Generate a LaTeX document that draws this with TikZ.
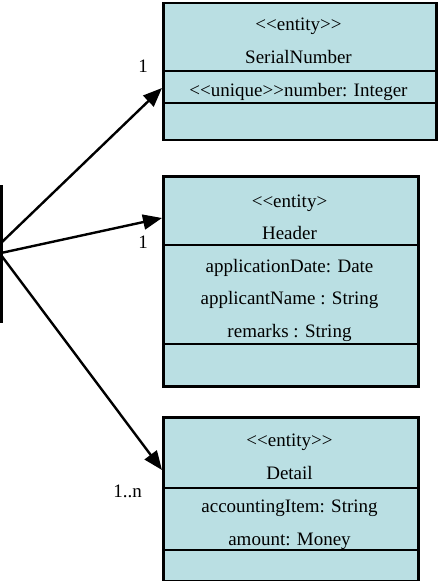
\documentclass[tikz,border=0pt]{standalone}
\usepackage{fontspec}
\setmainfont{Liberation Serif}
\usetikzlibrary{arrows.meta}
\definecolor{boxfill}{RGB}{186,223,227}
\begin{document}
\begin{tikzpicture}[x=1pt,y=-1pt,
  classbox/.style={draw=black, fill=boxfill, line width=2.5pt, inner sep=0pt, anchor=north west},
  divider/.style={line width=2.5pt},
  txt/.style={font=\fontsize{19}{22}\selectfont, inner sep=0pt, anchor=base},
  assoc/.style={line width=2.4pt, -{Triangle[length=19pt,width=15pt]}},
  mult/.style={font=\fontsize{19}{22}\selectfont, inner sep=0pt, anchor=base}]
\useasboundingbox (0,0) rectangle (437,581);

% class boxes
\node[classbox, minimum width=273pt, minimum height=137pt] (sn) at (162,1.5) {};
\node[classbox, minimum width=255pt, minimum height=210pt] (hd) at (162,175) {};
\node[classbox, minimum width=255pt, minimum height=164pt] (dt) at (162,416) {};

% compartment dividers
\draw[divider] (sn.west |- 0,71) -- (sn.east |- 0,71);
\draw[divider] (sn.west |- 0,103) -- (sn.east |- 0,103);
\draw[divider] (hd.west |- 0,245) -- (hd.east |- 0,245);
\draw[divider] (hd.west |- 0,344) -- (hd.east |- 0,344);
\draw[divider] (dt.west |- 0,488) -- (dt.east |- 0,488);
\draw[divider] (dt.west |- 0,550) -- (dt.east |- 0,550);

% texts: SerialNumber
\node[txt] (sn1) at (298.5,30) {<{}<entity>{}>};
\node[txt] (sn2) at (298.5,63) {SerialNumber};
\node[txt] (sn3) at (298.5,96) {<{}<unique>{}>number: Integer};
% Header
\node[txt] (hd1) at (289.5,207) {<{}<entity>};
\node[txt] (hd2) at (289.5,239) {Header};
\node[txt] (hd3) at (289.5,272) {applicationDate: Date};
\node[txt] (hd4) at (289.5,304) {applicantName : String};
\node[txt] (hd5) at (289.5,337) {remarks : String};
% Detail
\node[txt] (dt1) at (289.5,446) {<{}<entity>{}>};
\node[txt] (dt2) at (289.5,479) {Detail};
\node[txt] (dt3) at (289.5,512) {accountingItem: String};
\node[txt] (dt4) at (289.5,545) {amount: Money};

% left bar
\node[fill=black, inner sep=0pt, minimum width=3pt, minimum height=138pt, anchor=north west] (bar) at (0,185) {};
\coordinate (h1) at (1,243);
\coordinate (h2) at (1,253);
\coordinate (h3) at (1,255);

% arrow targets
\coordinate (t1) at (162,88);
\coordinate (t2) at (162,218);
\coordinate (t3) at (162,470);

\draw[assoc] (h1) -- (t1);
\draw[assoc] (h2) -- (t2);
\draw[assoc] (h3) -- (t3);

% multiplicities
\node[mult] (m1) at (143,72) {1};
\node[mult] (m2) at (143,248) {1};
\node[mult] (m3) at (127.5,497) {1..n};
\end{tikzpicture}
\end{document}
